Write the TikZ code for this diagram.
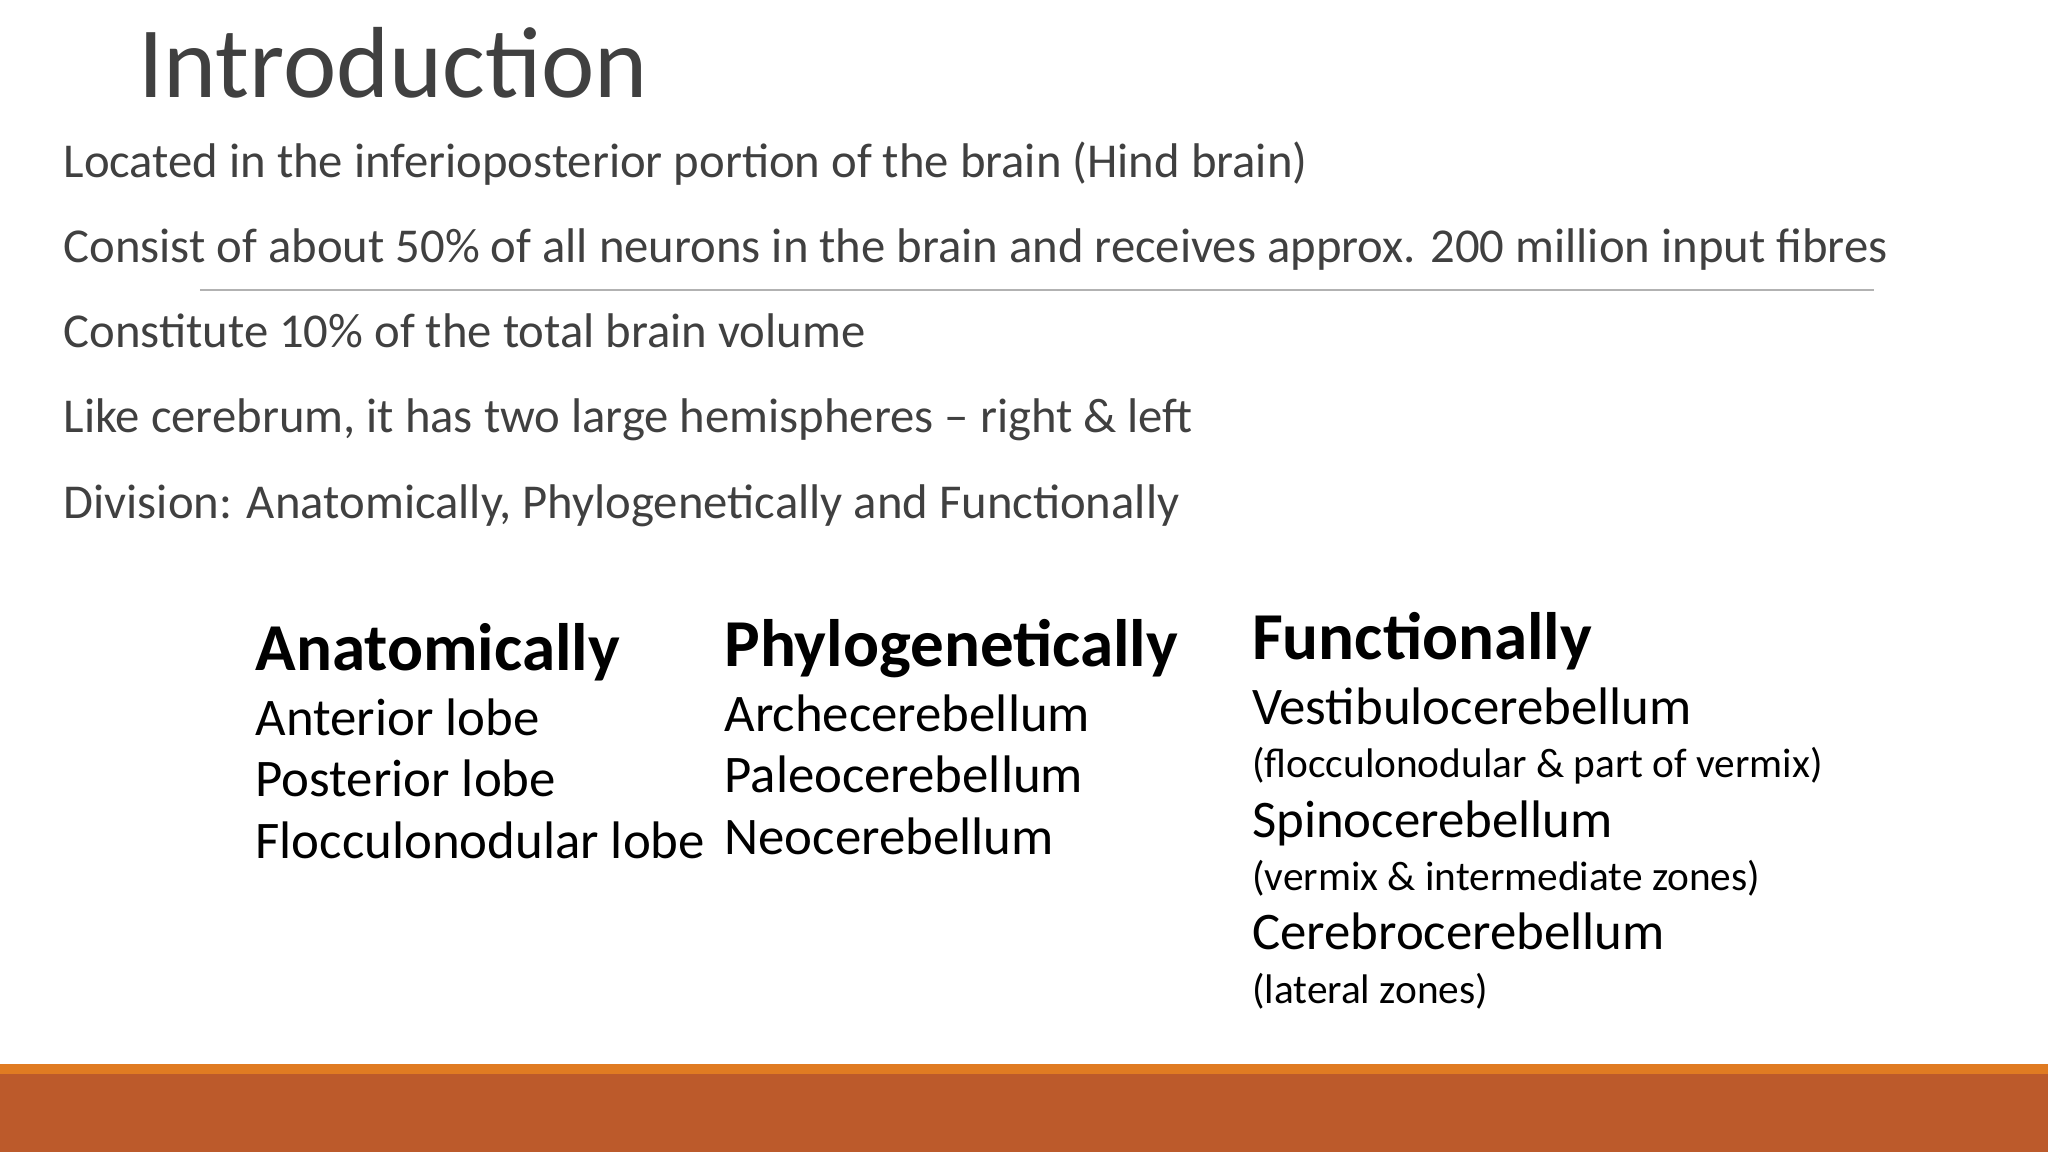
\documentclass[tikz,border=0pt]{standalone}
\usepackage{fontspec}
\setmainfont{Carlito}
\usetikzlibrary{positioning}
\definecolor{textgray}{HTML}{404040}
\definecolor{bandorange}{HTML}{E07B22}
\definecolor{bandrust}{HTML}{BC5A2B}
\tikzset{
  txt/.style={anchor=base west, inner sep=0pt, text=textgray, font=\fontsize{10.6}{12}\selectfont},
  head/.style={anchor=base west, inner sep=0pt, font=\fontsize{14.6}{16}\selectfont\bfseries},
  item/.style={anchor=base west, inner sep=0pt, font=\fontsize{11.5}{13}\selectfont},
  note/.style={anchor=base west, inner sep=0pt, font=\fontsize{9}{10}\selectfont}
}
\begin{document}
\begin{tikzpicture}[x=0.01cm,y=-0.01cm]
  \useasboundingbox (0,0) rectangle (1568,882);
  % bottom bands
  \fill[bandorange] (0,815) rectangle (1568,822);
  \fill[bandrust] (0,822) rectangle (1568,882);
  % title
  \node[anchor=base west, inner sep=0pt, text=textgray, font=\fontsize{22}{24}\selectfont] (title) at (105,75) {Introduction};
  % bullet lines
  \node[txt] (l1) at (48,136) {Located in the inferioposterior portion of the brain (Hind brain)};
  \node[txt] (l2) at (48,201) {Consist of about 50\% of all neurons in the brain and receives approx. 200 million input fibres};
  \node[txt] (l3) at (48,266) {Constitute 10\% of the total brain volume};
  \node[txt] (l4) at (48,331) {Like cerebrum, it has two large hemispheres – right \& left};
  \node[txt] (l5) at (48,397) {Division: Anatomically, Phylogenetically and Functionally};
  \draw[black!30, line width=0.6pt] (153,222) -- (1435,222);
  % anatomically
  \node[head] (ana) at (195,513) {Anatomically};
  \node[item] (ana1) at (195,563) {Anterior lobe};
  \node[item] (ana2) at (195,610) {Posterior lobe};
  \node[item] (ana3) at (195,657) {Flocculonodular lobe};
  % phylogenetically
  \node[head] (phy) at (554,510) {Phylogenetically};
  \node[item] (phy1) at (554,560) {Archecerebellum};
  \node[item] (phy2) at (554,607) {Paleocerebellum};
  \node[item] (phy3) at (554,654) {Neocerebellum};
  % functionally
  \node[head] (fun) at (958,505) {Functionally};
  \node[item] (fun1) at (958,555) {Vestibulocerebellum};
  \node[note] (fun1n) at (958,595) {(flocculonodular \& part of vermix)};
  \node[item] (fun2) at (958,641) {Spinocerebellum};
  \node[note] (fun2n) at (958,682) {(vermix \& intermediate zones)};
  \node[item] (fun3) at (958,727) {Cerebrocerebellum};
  \node[note] (fun3n) at (958,768) {(lateral zones)};
\end{tikzpicture}
\end{document}
